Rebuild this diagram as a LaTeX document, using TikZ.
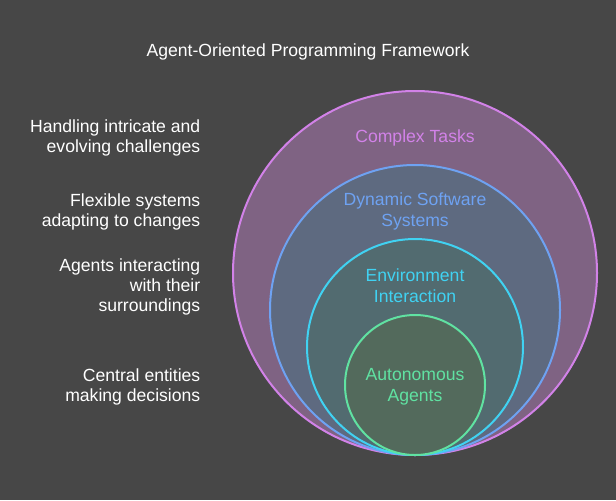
\documentclass[tikz,border=0pt]{standalone}
\usepackage{fontspec}
\setmainfont{Liberation Sans}
\begin{document}
\begin{tikzpicture}[x=0.75pt,y=-0.75pt,
  lbl/.style={align=right,anchor=east,text=white,font=\fontsize{13.2}{15.3}\selectfont},
  ctext/.style={align=center,font=\fontsize{13.2}{15.8}\selectfont}]
\definecolor{bg}{HTML}{474747}
\fill[bg] (0,0) rectangle (616,500);
\useasboundingbox (0,0) rectangle (616,500);
\definecolor{c1s}{HTML}{D282E8}\definecolor{c1f}{HTML}{7F6383}
\definecolor{c2s}{HTML}{6EA2F2}\definecolor{c2f}{HTML}{5E6A80}
\definecolor{c3s}{HTML}{40D2F2}\definecolor{c3f}{HTML}{526B70}
\definecolor{c4s}{HTML}{60E2A2}\definecolor{c4f}{HTML}{536A5C}
\path[draw=c1s,fill=c1f,line width=1.5pt] (415,273) circle[radius=182] coordinate (o1);
\path[draw=c2s,fill=c2f,line width=1.5pt] (415,310) circle[radius=145] coordinate (o2);
\path[draw=c3s,fill=c3f,line width=1.5pt] (415,347) circle[radius=108] coordinate (o3);
\path[draw=c4s,fill=c4f,line width=1.5pt] (415,385) circle[radius=70] coordinate (o4);
\node[text=white,font=\fontsize{13.2}{15}\selectfont] (title) at (308,52) {Agent-Oriented Programming Framework};
\node[ctext,text=c1s] (t1) at (415,138) {Complex Tasks};
\node[ctext,text=c2s] (t2) at (415,211) {Dynamic Software\\Systems};
\node[ctext,text=c3s] (t3) at (415,286) {Environment\\Interaction};
\node[ctext,text=c4s] (t4) at (415,387) {Autonomous\\Agents};
\node[lbl] (l1) at (205,138) {Handling intricate and\\evolving challenges};
\node[lbl] (l2) at (205,212) {Flexible systems\\adapting to changes};
\node[lbl] (l3) at (205,287) {Agents interacting\\with their\\surroundings};
\node[lbl] (l4) at (205,387) {Central entities\\making decisions};
\end{tikzpicture}
\end{document}
